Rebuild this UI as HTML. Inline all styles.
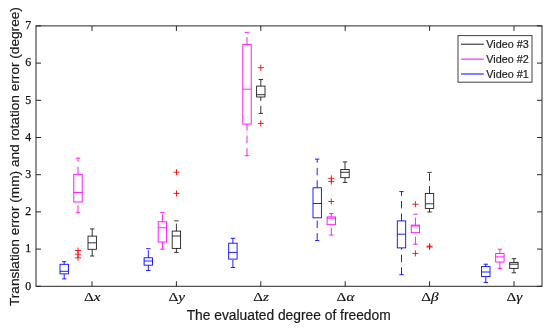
<!DOCTYPE html>
<html lang="en"><head><meta charset="utf-8"><title>Box plot</title>
<style>
html,body{margin:0;padding:0;background:#fff}
body{width:550px;height:329px;overflow:hidden}
svg{display:block}
.sans{font-family:"Liberation Sans",Arial,Helvetica,sans-serif;fill:#1a1a1a}
.serif{font-family:"Liberation Serif","Times New Roman",serif;fill:#111}
</style></head><body>
<svg width="550" height="329" viewBox="0 0 550 329">
<rect width="550" height="329" fill="#fff"/>
<g stroke="#262626" stroke-width="1" fill="none">
<rect x="36.0" y="25.9" width="506.0" height="260.40000000000003"/>
<path d="M92.0 286.3V281.3 M92.0 25.9V30.9"/>
<path d="M176.4 286.3V281.3 M176.4 25.9V30.9"/>
<path d="M260.8 286.3V281.3 M260.8 25.9V30.9"/>
<path d="M345.2 286.3V281.3 M345.2 25.9V30.9"/>
<path d="M429.6 286.3V281.3 M429.6 25.9V30.9"/>
<path d="M514.0 286.3V281.3 M514.0 25.9V30.9"/>
<path d="M36.0 286.30H41.0 M542.0 286.30H537.0"/>
<path d="M36.0 249.10H41.0 M542.0 249.10H537.0"/>
<path d="M36.0 211.90H41.0 M542.0 211.90H537.0"/>
<path d="M36.0 174.70H41.0 M542.0 174.70H537.0"/>
<path d="M36.0 137.50H41.0 M542.0 137.50H537.0"/>
<path d="M36.0 100.30H41.0 M542.0 100.30H537.0"/>
<path d="M36.0 63.10H41.0 M542.0 63.10H537.0"/>
<path d="M36.0 25.90H41.0 M542.0 25.90H537.0"/>
</g>
<g stroke="#0000ff" stroke-width="0.88" fill="none"><path d="M64.2 264.3V261.7" stroke-dasharray="7.5 5"/><path d="M64.2 278.9V273.9" stroke-dasharray="7.5 5"/><path d="M62.0 261.7H66.4 M62.0 278.9H66.4"/><rect x="60.0" y="264.3" width="8.4" height="9.6"/><path d="M60.0 271.3H68.4"/></g>
<g stroke="#ff00ff" stroke-width="0.88" fill="none"><path d="M78.0 174.3V158.2" stroke-dasharray="7.5 5"/><path d="M78.0 212.7V202.0" stroke-dasharray="7.5 5"/><path d="M75.8 158.2H80.2 M75.8 212.7H80.2"/><rect x="73.8" y="174.3" width="8.4" height="27.7"/><path d="M73.8 192.5H82.2"/></g>
<g stroke="#1a1a1a" stroke-width="0.88" fill="none"><path d="M92.2 236.1V228.9" stroke-dasharray="7.5 5"/><path d="M92.2 256.0V249.3" stroke-dasharray="7.5 5"/><path d="M90.0 228.9H94.4 M90.0 256.0H94.4"/><rect x="88.0" y="236.1" width="8.4" height="13.2"/><path d="M88.0 242.8H96.4"/></g>
<g stroke="#0000ff" stroke-width="0.88" fill="none"><path d="M148.3 257.8V248.7" stroke-dasharray="7.5 5"/><path d="M148.3 270.5V265.2" stroke-dasharray="7.5 5"/><path d="M146.1 248.7H150.5 M146.1 270.5H150.5"/><rect x="144.1" y="257.8" width="8.4" height="7.4"/><path d="M144.1 261.0H152.5"/></g>
<g stroke="#ff00ff" stroke-width="0.88" fill="none"><path d="M162.4 221.8V212.4" stroke-dasharray="7.5 5"/><path d="M162.4 249.2V242.0" stroke-dasharray="7.5 5"/><path d="M160.2 212.4H164.6 M160.2 249.2H164.6"/><rect x="158.2" y="221.8" width="8.4" height="20.2"/><path d="M158.2 227.8H166.6"/></g>
<g stroke="#1a1a1a" stroke-width="0.88" fill="none"><path d="M176.4 231.1V220.9" stroke-dasharray="7.5 5"/><path d="M176.4 252.4V248.4" stroke-dasharray="7.5 5"/><path d="M174.2 220.9H178.6 M174.2 252.4H178.6"/><rect x="172.2" y="231.1" width="8.4" height="17.3"/><path d="M172.2 236.0H180.6"/></g>
<g stroke="#0000ff" stroke-width="0.88" fill="none"><path d="M232.9 243.2V238.3" stroke-dasharray="7.5 5"/><path d="M232.9 267.5V259.1" stroke-dasharray="7.5 5"/><path d="M230.7 238.3H235.1 M230.7 267.5H235.1"/><rect x="228.7" y="243.2" width="8.4" height="15.9"/><path d="M228.7 252.4H237.1"/></g>
<g stroke="#ff00ff" stroke-width="0.88" fill="none"><path d="M247.0 44.6V32.4" stroke-dasharray="7.5 5"/><path d="M247.0 155.7V124.1" stroke-dasharray="7.5 5"/><path d="M244.8 32.4H249.2 M244.8 155.7H249.2"/><rect x="242.8" y="44.6" width="8.4" height="79.5"/><path d="M242.8 89.2H251.2"/></g>
<g stroke="#1a1a1a" stroke-width="0.88" fill="none"><path d="M260.8 86.1V79.5" stroke-dasharray="7.5 5"/><path d="M260.8 113.4V97.0" stroke-dasharray="7.5 5"/><path d="M258.6 79.5H263.0 M258.6 113.4H263.0"/><rect x="256.6" y="86.1" width="8.4" height="10.9"/><path d="M256.6 94.7H265.0"/></g>
<g stroke="#0000ff" stroke-width="0.88" fill="none"><path d="M317.2 187.8V159.1" stroke-dasharray="7.5 5"/><path d="M317.2 240.6V217.8" stroke-dasharray="7.5 5"/><path d="M315.0 159.1H319.4 M315.0 240.6H319.4"/><rect x="313.0" y="187.8" width="8.4" height="30.0"/><path d="M313.0 203.5H321.4"/></g>
<g stroke="#ff00ff" stroke-width="0.88" fill="none"><path d="M331.3 216.9V213.6" stroke-dasharray="7.5 5"/><path d="M331.3 235.1V224.7" stroke-dasharray="7.5 5"/><path d="M329.1 213.6H333.5 M329.1 235.1H333.5"/><rect x="327.1" y="216.9" width="8.4" height="7.8"/><path d="M327.1 218.2H335.5"/></g>
<g stroke="#1a1a1a" stroke-width="0.88" fill="none"><path d="M345.0 169.5V161.9" stroke-dasharray="7.5 5"/><path d="M345.0 182.5V177.7" stroke-dasharray="7.5 5"/><path d="M342.8 161.9H347.2 M342.8 182.5H347.2"/><rect x="340.8" y="169.5" width="8.4" height="8.2"/><path d="M340.8 172.3H349.2"/></g>
<g stroke="#0000ff" stroke-width="0.88" fill="none"><path d="M401.5 220.9V191.6" stroke-dasharray="7.5 5"/><path d="M401.5 274.7V247.9" stroke-dasharray="7.5 5"/><path d="M399.3 191.6H403.7 M399.3 274.7H403.7"/><rect x="397.3" y="220.9" width="8.4" height="27.0"/><path d="M397.3 234.2H405.7"/></g>
<g stroke="#ff00ff" stroke-width="0.88" fill="none"><path d="M415.4 225.1V214.2" stroke-dasharray="7.5 5"/><path d="M415.4 244.2V232.7" stroke-dasharray="7.5 5"/><path d="M413.2 214.2H417.6 M413.2 244.2H417.6"/><rect x="411.2" y="225.1" width="8.4" height="7.6"/><path d="M411.2 226.0H419.6"/></g>
<g stroke="#1a1a1a" stroke-width="0.88" fill="none"><path d="M429.5 193.4V172.4" stroke-dasharray="7.5 5"/><path d="M429.5 212.0V208.4" stroke-dasharray="7.5 5"/><path d="M427.3 172.4H431.7 M427.3 212.0H431.7"/><rect x="425.3" y="193.4" width="8.4" height="15.0"/><path d="M425.3 203.8H433.7"/></g>
<g stroke="#0000ff" stroke-width="0.88" fill="none"><path d="M485.8 266.6V264.2" stroke-dasharray="7.5 5"/><path d="M485.8 282.4V276.6" stroke-dasharray="7.5 5"/><path d="M483.6 264.2H488.0 M483.6 282.4H488.0"/><rect x="481.6" y="266.6" width="8.4" height="10.0"/><path d="M481.6 272.0H490.0"/></g>
<g stroke="#ff00ff" stroke-width="0.88" fill="none"><path d="M499.9 253.6V249.2" stroke-dasharray="7.5 5"/><path d="M499.9 268.4V262.0" stroke-dasharray="7.5 5"/><path d="M497.7 249.2H502.1 M497.7 268.4H502.1"/><rect x="495.7" y="253.6" width="8.4" height="8.4"/><path d="M495.7 256.9H504.1"/></g>
<g stroke="#1a1a1a" stroke-width="0.88" fill="none"><path d="M513.9 262.4V258.7" stroke-dasharray="7.5 5"/><path d="M513.9 272.8V268.4" stroke-dasharray="7.5 5"/><path d="M511.7 258.7H516.1 M511.7 272.8H516.1"/><rect x="509.7" y="262.4" width="8.4" height="6.0"/><path d="M509.7 264.2H518.1"/></g>
<g stroke="#ff0000" stroke-width="0.9" fill="none">
<path d="M75.0 250.5H81.0 M78.0 247.5V253.5"/>
<path d="M75.0 254.2H81.0 M78.0 251.2V257.2"/>
<path d="M75.0 257.8H81.0 M78.0 254.8V260.8"/>
<path d="M173.5 172.2H179.5 M176.5 169.2V175.2"/>
<path d="M173.5 193.4H179.5 M176.5 190.4V196.4"/>
<path d="M257.8 67.7H263.8 M260.8 64.7V70.7"/>
<path d="M257.8 123.4H263.8 M260.8 120.4V126.4"/>
<path d="M328.3 178.3H334.3 M331.3 175.3V181.3"/>
<path d="M328.3 181.6H334.3 M331.3 178.6V184.6"/>
<path d="M328.3 201.5H334.3 M331.3 198.5V204.5"/>
<path d="M412.4 204.2H418.4 M415.4 201.2V207.2"/>
<path d="M412.4 253.4H418.4 M415.4 250.4V256.4"/>
<path d="M426.6 246.2H432.6 M429.6 243.2V249.2"/>
<path d="M426.6 247.0H432.6 M429.6 244.0V250.0"/>
</g>
<rect x="458" y="35.6" width="74" height="46.6" fill="#fff" stroke="#404040" stroke-width="1"/>
<path d="M461 44.2H483.8" stroke="#1a1a1a" stroke-width="1"/><text class="sans" x="486.3" y="48.4" font-size="10.8" stroke="#1a1a1a" stroke-width="0.18">Video #3</text>
<path d="M461 59.1H483.8" stroke="#ff00ff" stroke-width="1"/><text class="sans" x="486.3" y="63.3" font-size="10.8" stroke="#1a1a1a" stroke-width="0.18">Video #2</text>
<path d="M461 74.0H483.8" stroke="#0000ff" stroke-width="1"/><text class="sans" x="486.3" y="78.2" font-size="10.8" stroke="#1a1a1a" stroke-width="0.18">Video #1</text>
<text class="serif" transform="translate(31.3 289.5) scale(1.0 1)" font-size="11.9" text-anchor="end" stroke="#111" stroke-width="0.25">0</text>
<text class="serif" transform="translate(31.3 252.3) scale(1.0 1)" font-size="11.9" text-anchor="end" stroke="#111" stroke-width="0.25">1</text>
<text class="serif" transform="translate(31.3 215.1) scale(1.0 1)" font-size="11.9" text-anchor="end" stroke="#111" stroke-width="0.25">2</text>
<text class="serif" transform="translate(31.3 177.9) scale(1.0 1)" font-size="11.9" text-anchor="end" stroke="#111" stroke-width="0.25">3</text>
<text class="serif" transform="translate(31.3 140.7) scale(1.0 1)" font-size="11.9" text-anchor="end" stroke="#111" stroke-width="0.25">4</text>
<text class="serif" transform="translate(31.3 103.5) scale(1.0 1)" font-size="11.9" text-anchor="end" stroke="#111" stroke-width="0.25">5</text>
<text class="serif" transform="translate(31.3 66.3) scale(1.0 1)" font-size="11.9" text-anchor="end" stroke="#111" stroke-width="0.25">6</text>
<text class="serif" transform="translate(31.3 29.1) scale(1.0 1)" font-size="11.9" text-anchor="end" stroke="#111" stroke-width="0.25">7</text>
<text class="serif" transform="translate(92.3 301.1) scale(1.27 1)" font-size="12" text-anchor="middle" stroke="#111" stroke-width="0.15">Δ<tspan font-style="italic">x</tspan></text>
<text class="serif" transform="translate(176.7 301.1) scale(1.27 1)" font-size="12" text-anchor="middle" stroke="#111" stroke-width="0.15">Δ<tspan font-style="italic">y</tspan></text>
<text class="serif" transform="translate(261.1 301.1) scale(1.27 1)" font-size="12" text-anchor="middle" stroke="#111" stroke-width="0.15">Δ<tspan font-style="italic">z</tspan></text>
<text class="serif" transform="translate(345.5 301.1) scale(1.27 1)" font-size="12" text-anchor="middle" stroke="#111" stroke-width="0.15">Δ<tspan font-style="italic">α</tspan></text>
<text class="serif" transform="translate(429.9 301.1) scale(1.27 1)" font-size="12" text-anchor="middle" stroke="#111" stroke-width="0.15">Δ<tspan font-style="italic">β</tspan></text>
<text class="serif" transform="translate(514.3 301.1) scale(1.27 1)" font-size="12" text-anchor="middle" stroke="#111" stroke-width="0.15">Δ<tspan font-style="italic">γ</tspan></text>
<text class="sans" x="288.7" y="320.3" font-size="13.8" stroke="#1a1a1a" stroke-width="0.2" text-anchor="middle">The evaluated degree of freedom</text>
<text class="sans" transform="translate(19.3 156.6) rotate(-90)" font-size="13.65" stroke="#1a1a1a" stroke-width="0.2" text-anchor="middle">Translation error (mm) and rotation error (degree)</text>
</svg>
</body></html>
